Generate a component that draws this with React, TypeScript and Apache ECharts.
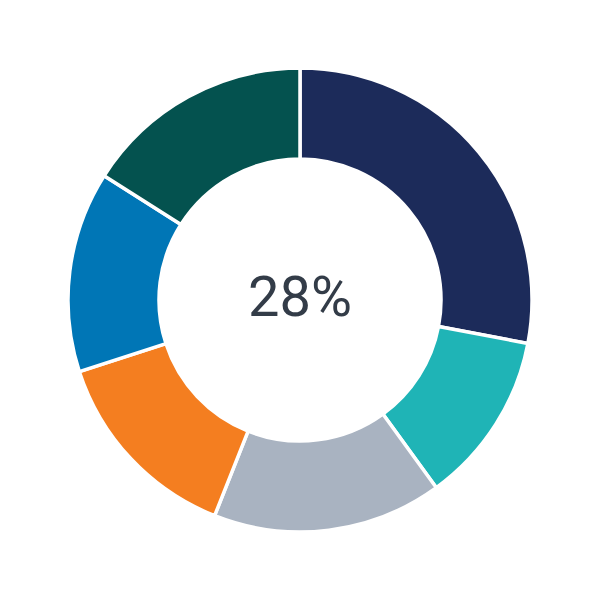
import React, { useEffect, useRef } from "react";
import * as echarts from "echarts";

const categories = ["A", "B", "C", "D", "E", "F"];
const values = [28, 12, 16, 14, 14, 16];
const colors = ["#1c2b5a", "#1fb4b6", "#a9b3c1", "#f47e20", "#0076b6", "#04524f"];
const centerLabel = "28%";

export default function App() {
  const ref = useRef<HTMLDivElement>(null);
  useEffect(() => {
    if (!ref.current) return;
    const chart = echarts.init(ref.current, undefined, { renderer: "svg" });
    chart.setOption({
      animation: false,
      backgroundColor: "#ffffff",
      graphic: [
        {
          type: "text",
          x: 300,
          y: 297,
          style: {
            text: centerLabel,
            fontSize: 56,
            fontFamily: "Roboto",
            fill: "#333c48",
            align: "center",
            verticalAlign: "middle",
          },
        },
      ],
      series: [
        {
          type: "pie",
          center: [300, 300],
          radius: [141, 232],
          startAngle: 90,
          clockwise: true,
          label: { show: false },
          labelLine: { show: false },
          emphasis: { disabled: true },
          itemStyle: { borderColor: "#ffffff", borderWidth: 3.5 },
          data: categories.map((c, i) => ({
            name: c,
            value: values[i],
            itemStyle: { color: colors[i] },
          })),
        },
      ],
    });
    return () => chart.dispose();
  }, []);
  return (
    <div
      ref={ref}
      style={{ position: "fixed", left: 0, top: 0, width: 600, height: 600 }}
    />
  );
}
